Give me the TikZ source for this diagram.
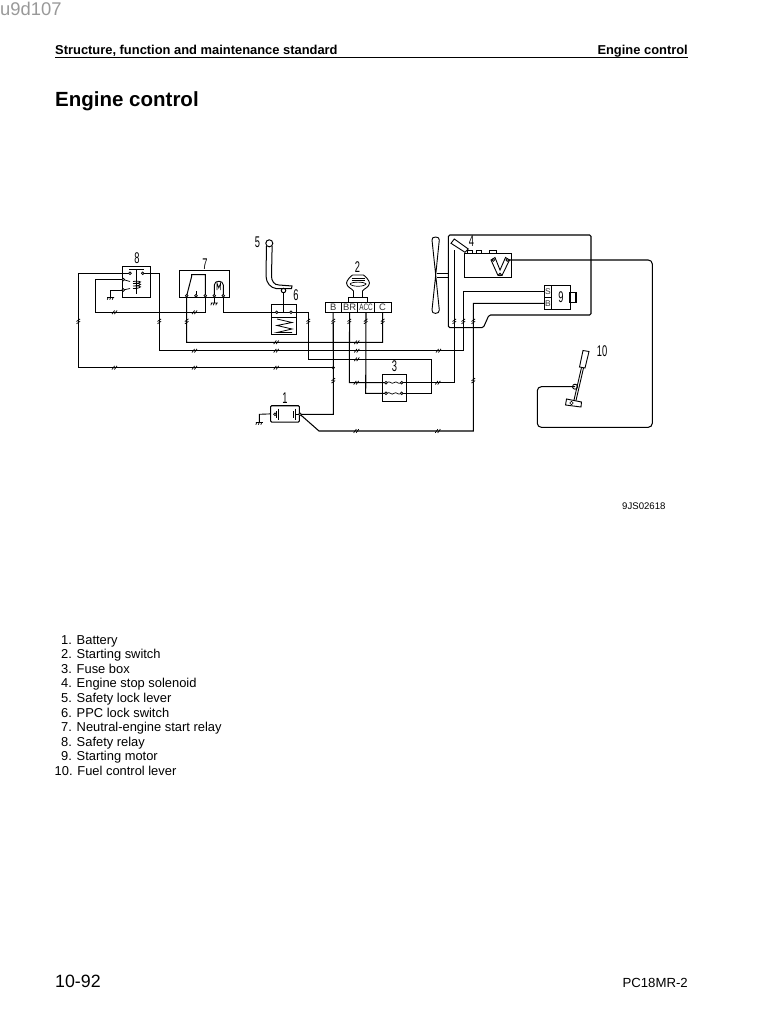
\documentclass[tikz,border=0pt]{standalone}
\usepackage{fontspec}
\setmainfont{Liberation Sans}
\tikzset{
  wire/.style={line width=1.05pt},
  part/.style={draw, line width=1.05pt, inner sep=0pt},
  termdot/.style={circle, draw, fill=black!35, line width=0.6pt, inner sep=0pt, minimum size=2.8pt},
  partno/.style={font=\fontsize{15.5}{15.5}\selectfont, xscale=0.6, transform shape, inner sep=0pt},
  plate/.style={font=\fontsize{9.4}{10}\selectfont, text=black!80, inner sep=0pt},
  listitem/.style={font=\fontsize{12.9}{14}\selectfont, anchor=base west, inner sep=0pt},
  htick/.pic={\draw[line width=0.75pt] (-3,1.8) -- (-0.4,-1.8) (-0.6,1.8) -- (2,-1.8);},
  vtick/.pic={\draw[line width=0.75pt] (-1.8,2) -- (1.8,-0.4) (-1.8,-0.2) -- (1.8,-2.8);},
  earth/.pic={\draw[line width=0.7pt] (-3.5,0) -- (3.5,0) (-2.5,0) -- (-3.5,2.2) (0,0) -- (-1,2.2) (2.5,0) -- (1.5,2.2);}
}
\begin{document}
\begin{tikzpicture}[x=1pt,y=-1pt]
\useasboundingbox (0,0) rectangle (768,1024);
\fill[white] (0,0) rectangle (768,1024);

% page furniture
\node[anchor=base west, inner sep=0pt, text=black!40, font=\fontsize{18.4}{18}\selectfont] (stamp) at (0,16) {u9d107};
\node[anchor=base west, inner sep=0pt, font=\fontsize{12.9}{14}\selectfont\bfseries] (runhead) at (55,54.6) {Structure, function and maintenance standard};
\node[anchor=base east, inner sep=0pt, font=\fontsize{12.9}{14}\selectfont\bfseries] (runsec) at (688,54.6) {Engine control};
\draw[line width=1pt] (55,57.5) -- (688,57.5);
\node[anchor=base west, inner sep=0pt, font=\fontsize{20.5}{22}\selectfont\bfseries] (title) at (55,106.8) {Engine control};
\node[anchor=base west, inner sep=0pt, font=\fontsize{9.6}{11}\selectfont] (drawno) at (622,509) {9JS02618};
\node[anchor=base west, inner sep=0pt, font=\fontsize{17.8}{20}\selectfont] (pageno) at (55,987) {10-92};
\node[anchor=base east, inner sep=0pt, font=\fontsize{13.2}{15}\selectfont] (model) at (688,987) {PC18MR-2};

% parts list
\node[listitem] (li1) at (61,644) {1. Battery};
\node[listitem] (li2) at (61,658.6) {2. Starting switch};
\node[listitem] (li3) at (61,673.2) {3. Fuse box};
\node[listitem] (li4) at (61,687.8) {4. Engine stop solenoid};
\node[listitem] (li5) at (61,702.4) {5. Safety lock lever};
\node[listitem] (li6) at (61,717) {6. PPC lock switch};
\node[listitem] (li7) at (61,731.6) {7. Neutral-engine start relay};
\node[listitem] (li8) at (61,746.2) {8. Safety relay};
\node[listitem] (li9) at (61,760.8) {9. Starting motor};
\node[listitem] (li10) at (54.5,775.4) {10. Fuel control lever};

% boxes of the parts
\node[part, minimum width=28.7pt, minimum height=30.6pt] (relayS) at (136.6,282) {};
\node[part, minimum width=49.3pt, minimum height=26.6pt] (relayN) at (204.6,284) {};
\node[part, minimum width=25pt, minimum height=30.3pt] (ppc) at (284.2,319.2) {};
\node[part, minimum width=28.6pt, minimum height=16.3pt, rounded corners=1pt] (battery) at (285,413.9) {};
\node[part, minimum width=24pt, minimum height=27.4pt] (fuse) at (394.7,388) {};
\node[part, minimum width=47.4pt, minimum height=24pt] (solenoid) at (488,265.3) {};
\node[part, minimum width=25.7pt, minimum height=23.3pt] (motor) at (557.2,297.4) {};
\node[part, minimum width=6pt, minimum height=9.6pt] (pinion) at (573,297.5) {};

% starting switch plate
\node[part, plate, line width=0.8pt, minimum width=16.4pt, minimum height=10pt] (swB) at (333.2,307.3) {B};
\node[part, plate, line width=0.8pt, minimum width=16.4pt, minimum height=10pt] (swBR) at (349.6,307.3) {BR};
\node[part, plate, line width=0.8pt, minimum width=16.4pt, minimum height=10pt] (swACC) at (366,307.3) {\scalebox{0.68}[1]{ACC}};
\node[part, plate, line width=0.8pt, minimum width=16.8pt, minimum height=10pt] (swC) at (382.6,307.3) {C};
\node[part, minimum width=19pt, minimum height=5pt] (swneck) at (358,299.6) {};
\draw[line width=0.9pt] (352.5,275) -- (363.5,275) .. controls (366,277) and (369,280) .. (369.5,283)
  .. controls (369.5,287) and (363.5,289) .. (362.5,291) -- (362.5,297.1);
\draw[line width=0.9pt] (352.5,275) .. controls (350,277) and (347,280) .. (346.5,283)
  .. controls (346.5,287) and (352.5,289) .. (353.5,291) -- (353.5,297.1);
\draw[line width=1.2pt] (351.5,278.3) -- (364.5,278.3) (351.5,280.2) -- (364.5,280.2);
\draw[line width=0.7pt] (350,284) .. controls (352,281.5) and (364,281.5) .. (366,284)
  .. controls (364,287) and (352,287) .. (350,284);

% terminals
\coordinate (sTopL) at (130,273.3);
\coordinate (sTopR) at (142.7,273.3);
\coordinate (sMidL) at (123.3,279.6);
\coordinate (sLowL) at (123.3,290);
\coordinate (nA) at (186.7,295.7);
\coordinate (nB) at (196,295.7);
\coordinate (nC) at (205.3,295.7);
\coordinate (nD) at (214.3,295.7);
\coordinate (nE) at (223.3,295.7);
\coordinate (pL) at (276.7,312.3);
\coordinate (pR) at (291,312.3);
\coordinate (fTL) at (386,382.7);
\coordinate (fTR) at (401.7,382.7);
\coordinate (fBL) at (386,393.3);
\coordinate (fBR) at (401.7,393.3);
\coordinate (batL) at (275,414.3);
\coordinate (batR) at (300,414.3);
\coordinate (stop) at (507.3,260);
\coordinate (motS) at (544.3,291.5);
\coordinate (motB) at (544.3,303.3);
\coordinate (levpin) at (575,386.7);
\coordinate (joint) at (333.3,367.7);

% wiring
\draw[wire] (sTopL) -- (78.3,273.3) -- (78.3,367.7) -- (joint);
\draw[wire] (swB.south) -- (joint) -- (333.3,414.3) -- (batR);
\fill (joint) circle (1.7pt);
\draw[wire] (sTopR) -- (159.3,273.3) -- (159.3,350.7) -- (463.3,350.7) -- (463.3,291.5) -- (motS);
\draw[wire] (nA) -- (186.7,342.3) -- (382.7,342.3) -- (swC.south);
\draw[wire] (sMidL) -- (95.7,279.6) -- (95.7,312.3) -- (205.3,312.3) -- (nC);
\draw[wire] (nE) -- (223.3,312.3) -- (pL);
\draw[wire] (pR) -- (308.3,312.3) -- (308.3,359.3) -- (431.7,359.3) -- (431.7,393.3) -- (fBR);
\draw[wire] (swBR.south) -- (349.3,382.7) -- (fTL);
\draw[wire] (fTR) -- (454.3,382.7) -- (454.3,250);
\draw[wire] (swACC.south) -- (365.7,393.3) -- (fBL);
\draw[wire] (batR) -- (319,431) -- (473.3,431) -- (473.3,303.3) -- (motB);
\draw[wire, rounded corners=4pt] (stop) -- (652.3,260) -- (652.3,427.3) -- (537.3,427.3) -- (537.3,386.7) -- (levpin);

% ticks on the wires
\path (115,312.3) pic {htick} (195,312.3) pic {htick}
  (276.7,342.3) pic {htick} (357.3,342.3) pic {htick}
  (195,350.7) pic {htick} (276.7,350.7) pic {htick} (357.3,350.7) pic {htick} (439,350.7) pic {htick}
  (357.3,359.3) pic {htick}
  (115,367.7) pic {htick} (195,367.7) pic {htick} (276.7,367.7) pic {htick}
  (356.7,382.7) pic {htick} (438.3,382.7) pic {htick}
  (356.7,431) pic {htick} (438.3,431) pic {htick};
\path (78.3,321.7) pic {vtick} (159.3,321.7) pic {vtick} (186.7,321.7) pic {vtick}
  (308.3,321.7) pic {vtick} (333.3,321.7) pic {vtick} (349.3,321.7) pic {vtick}
  (365.7,321.7) pic {vtick} (382.7,321.7) pic {vtick}
  (454.3,321.7) pic {vtick} (463.3,321.7) pic {vtick} (473.3,321.7) pic {vtick}
  (333.3,381) pic {vtick} (473.3,381) pic {vtick};

% safety relay inside
\draw[line width=0.7pt] (sLowL) -- (110.7,290) -- (110.7,297.5);
\path (110.7,297.5) pic {earth};
\draw[line width=0.9pt] (129,269.5) -- (144,269.5) (136.5,269.5) -- (136.5,294);
\draw[line width=0.7pt] (sMidL) -- (130,281.5) (sLowL) -- (130,288.5);
\draw[line width=0.8pt] (133,281.5) .. controls (143,280) and (143,283.5) .. (133,283.5)
  .. controls (143,282.5) and (143,286) .. (133,286)
  .. controls (143,285) and (143,288.5) .. (133,288.5);
\foreach \t in {sTopL,sTopR,sMidL,sLowL} \node[termdot] at (\t) {};

% neutral relay inside
\draw[line width=1pt] (nA) -- (191.5,277) (nC) -- (205.3,274.5) -- (191.5,274.5) -- (191.5,277);
\draw[line width=0.8pt] (nB) -- (196,291);
\draw[line width=0.9pt] (nD) -- (214.3,285) .. controls (214.3,280) and (223.3,280) .. (223.3,285) -- (nE);
\draw[line width=0.7pt] (217,290) -- (217,283) -- (218.8,288) -- (220.6,283) -- (220.6,290);
\draw[line width=0.7pt] (nD) -- (214.3,303);
\path (214.3,303) pic {earth};
\foreach \t in {nA,nB,nC,nD,nE} \node[termdot] at (\t) {};

% safety lock lever and ppc switch
\node[circle, draw, line width=1pt, fill=white, inner sep=0pt, minimum size=7pt] (knob) at (269.3,243.3) {};
\draw[line width=1pt] (knob.south west) -- (266,276) .. controls (266,283) and (271,288) .. (276,288.5) -- (281,288.5);
\draw[line width=1pt] (knob.south east) -- (271.5,276) .. controls (271.5,281) and (274,285) .. (279,285) -- (292,286) -- (291.5,288.5) -- (281,288.5);
\node[circle, draw, line width=1pt, inner sep=0pt, minimum size=4.5pt] (nut) at (283.5,290.5) {};
\draw[line width=1pt] (nut.south) -- (283.5,312.3);
\draw[line width=0.9pt] (pL) -- (pR);
\draw[line width=0.9pt] (272,317) -- (296,317);
\draw[line width=0.8pt] (277,319) -- (292,322.5) -- (277,325.5) -- (292,329) -- (277,332.5) -- (292,332.5);
\node[termdot] at (pL) {};
\node[termdot] at (pR) {};

% battery inside
\draw[line width=1pt] (batL) -- (276.5,414.3) (276.5,411) -- (276.5,417.5);
\draw[line width=0.7pt] (278,408.5) -- (278,420);
\draw[line width=1pt] (293,411) -- (293,417.5);
\draw[line width=0.7pt] (295,408.5) -- (295,420);
\draw[line width=0.7pt] (295,414.3) -- (batR);
\draw[line width=0.9pt] (battery.west) -- (259.3,414.3) -- (259.3,422.5);
\path (259.3,422.5) pic {earth};
\node[termdot] at (batL) {};
\node[termdot] at (batR) {};

% fuse box inside
\draw[line width=0.7pt] (fTL) .. controls (391,380) and (391,385) .. (394,382.7) .. controls (397,380) and (397,385) .. (fTR);
\draw[line width=0.7pt] (fBL) .. controls (391,391) and (391,396) .. (394,393.3) .. controls (397,391) and (397,396) .. (fBR);
\foreach \t in {fTL,fTR,fBL,fBR} \node[termdot] at (\t) {};

% engine outline and fan
\draw[line width=1.05pt, rounded corners=1.5pt] (448.3,235) -- (591,235) -- (591,315) -- (489,315) -- (483.3,327.7) -- (448.3,327.7) -- cycle;
\draw[line width=0.9pt, fill=white] (435.7,275) -- (432,240) .. controls (431,236) and (440,236) .. (439.3,240)
  -- (435.7,275) -- (439.3,310) .. controls (440,314.5) and (431,314.5) .. (432,310) -- cycle;
\draw[line width=0.9pt] (437,273.3) -- (448.3,273.3) (437,277.3) -- (448.3,277.3);

% solenoid, belt and lever on the engine
\draw[line width=0.9pt, fill=white] (451,243.3) -- (454.3,239) -- (468.3,249) -- (465,252.3) -- cycle;
\draw[line width=0.8pt] (467,253.3) -- (467,250.5) -- (472,250.5) -- (472,253.3) (476,253.3) -- (476,250.5) -- (481,250.5) -- (481,253.3) (489,253.3) -- (489,250.5) -- (496,250.5) -- (496,253.3);
\draw[line width=0.9pt] (491,260) -- (498,275.5) -- (502,275.5) -- (509.5,260) -- (505.5,257.5) -- (500,270) -- (495,257.5) -- cycle;
\node[termdot] at (493.3,260) {};
\node[termdot] at (stop) {};
\node[termdot] at (500,274.5) {};

% starting motor inside
\draw[line width=1pt] (551.7,285.7) -- (551.7,309) (544.3,297.4) -- (551.7,297.4);
\node[plate, font=\fontsize{8.4}{9}\selectfont] (motSl) at (548,291.4) {S};
\node[plate, font=\fontsize{8.4}{9}\selectfont] (motBl) at (548,303.2) {B};
\node[partno] (n9) at (561,297.5) {9};

% fuel control lever
\draw[line width=0.9pt] (583,350.5) -- (589,351.5) -- (585,368) -- (579.5,367) -- cycle;
\draw[line width=0.9pt] (581.5,367.5) -- (574,400) (583.5,368) -- (576,400.5);
\node[circle, draw, line width=0.9pt, inner sep=0pt, minimum size=5pt] (levpiv) at (levpin) {};
\draw[line width=0.9pt] (566.5,399) -- (581.5,402) -- (581,407) -- (565.5,405) -- cycle;
\node[circle, draw, line width=0.6pt, inner sep=0pt, minimum size=3.5pt] (levhole) at (571.5,403) {};

% part numbers
\node[partno] (n1) at (285,398) {1};
\node[partno] (n2) at (357.5,267) {2};
\node[partno] (n3) at (394.5,366.5) {3};
\node[partno] (n4) at (471.5,241) {4};
\node[partno] (n5) at (257.5,242.5) {5};
\node[partno] (n6) at (296,295) {6};
\node[partno] (n7) at (205,264) {7};
\node[partno] (n8) at (137,258.5) {8};
\node[partno] (n10) at (602,351) {10};
\end{tikzpicture}
\end{document}
